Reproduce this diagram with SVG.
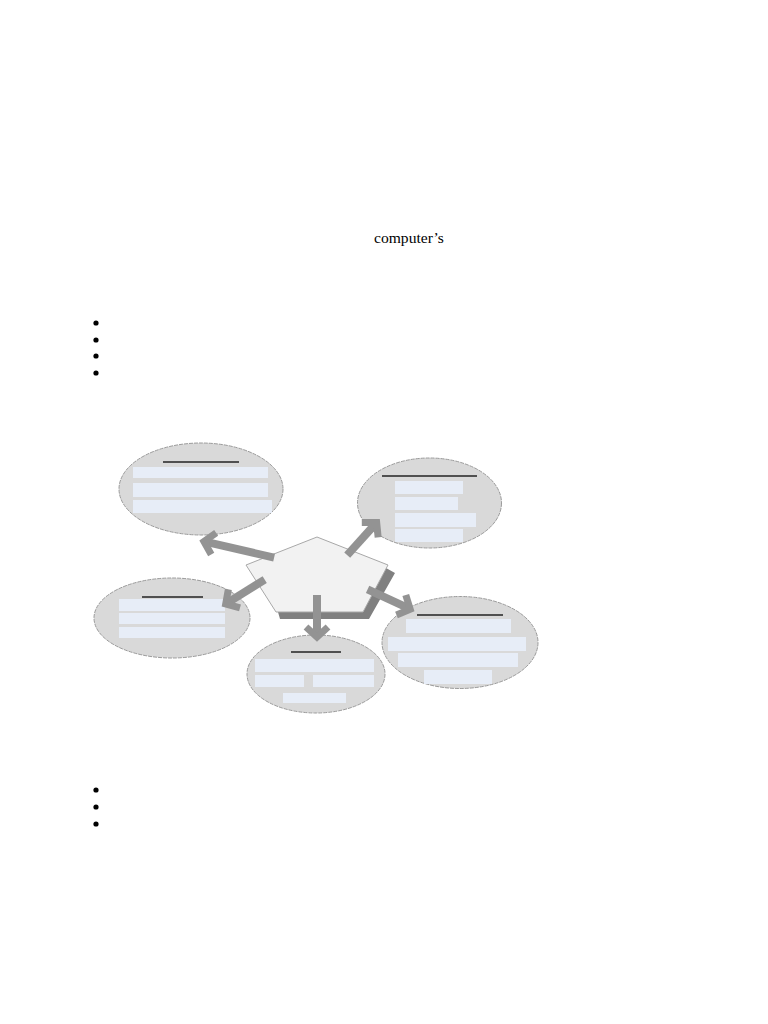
<svg xmlns="http://www.w3.org/2000/svg" width="768" height="1024" viewBox="0 0 768 1024">
<style>
.ell{fill:#d9d9d9;stroke:#9a9a9a;stroke-width:1;stroke-dasharray:4 1}
.bar{fill:#e7edf7}
.ttl{stroke:#222;stroke-width:1.6}
.shaft{stroke:#939393;stroke-width:8;fill:none}
.head{stroke:#939393;stroke-width:7;fill:none;stroke-linejoin:miter;stroke-miterlimit:10}
.bul{fill:#000}
.txt{font-family:"Liberation Serif",serif;font-size:15.6px;fill:#000}
</style>
<rect width="768" height="1024" fill="#fff"/>
<text class="txt" x="374" y="243">computer’s</text>
<g id="bullets1">
<circle class="bul" cx="96" cy="323" r="2.6"/>
<circle class="bul" cx="96" cy="340" r="2.6"/>
<circle class="bul" cx="96" cy="356" r="2.6"/>
<circle class="bul" cx="96" cy="373" r="2.6"/>
</g>
<g id="bullets2">
<circle class="bul" cx="96" cy="790" r="2.6"/>
<circle class="bul" cx="96" cy="807" r="2.6"/>
<circle class="bul" cx="96" cy="824" r="2.6"/>
</g>
<g id="node-center">
<polygon points="278,612 363,612 386,568 395,573 369,619 280,619" fill="#808080"/>
<polygon points="317,537 388,565 363,612 276,612 246,565" fill="#f2f2f2" stroke="#a8a8a8" stroke-width="1"/>
</g>
<g id="node-topleft">
<ellipse class="ell" cx="201" cy="489" rx="82" ry="46"/>
<line class="ttl" x1="163" y1="462" x2="239" y2="462"/>
<rect class="bar" x="133" y="467" width="135" height="11"/>
<rect class="bar" x="133" y="483" width="135" height="14"/>
<rect class="bar" x="133" y="500" width="139" height="13"/>
</g>
<g id="node-topright">
<ellipse class="ell" cx="429.5" cy="503" rx="72" ry="45"/>
<line class="ttl" x1="382" y1="476" x2="477" y2="476"/>
<rect class="bar" x="395" y="481" width="68" height="13"/>
<rect class="bar" x="395" y="497" width="63" height="13"/>
<rect class="bar" x="395" y="513" width="81" height="14"/>
<rect class="bar" x="395" y="529" width="68" height="13"/>
</g>
<g id="node-left">
<ellipse class="ell" cx="172" cy="618" rx="78" ry="40"/>
<line class="ttl" x1="142" y1="597" x2="203" y2="597"/>
<rect class="bar" x="119" y="599" width="106" height="12"/>
<rect class="bar" x="119" y="613" width="106" height="11"/>
<rect class="bar" x="119" y="627" width="106" height="11"/>
</g>
<g id="node-bottom">
<ellipse class="ell" cx="316" cy="674" rx="69" ry="39"/>
<line class="ttl" x1="291" y1="652" x2="341" y2="652"/>
<rect class="bar" x="255" y="659" width="119" height="13"/>
<rect class="bar" x="255" y="675" width="49" height="12"/>
<rect class="bar" x="313" y="675" width="61" height="12"/>
<rect class="bar" x="283" y="693" width="63" height="10"/>
</g>
<g id="node-right">
<ellipse class="ell" cx="460" cy="642.5" rx="78" ry="46"/>
<line class="ttl" x1="417" y1="615" x2="503" y2="615"/>
<rect class="bar" x="406" y="619" width="105" height="14"/>
<rect class="bar" x="388" y="637" width="138" height="14"/>
<rect class="bar" x="398" y="653" width="120" height="14"/>
<rect class="bar" x="424" y="670" width="68" height="14"/>
</g>
<g id="connectors">
<g transform="translate(202,541) rotate(193)">
<line class="shaft" x1="-74" y1="0" x2="-3" y2="0"/>
<polyline class="head" points="-12,-11 -2,0 -12,11"/>
</g>
<g transform="translate(224,605) rotate(148)">
<line class="shaft" x1="-48" y1="0" x2="-3" y2="0"/>
<polyline class="head" points="-12,-11 -2,0 -12,11"/>
</g>
<g transform="translate(317,639) rotate(90)">
<line class="shaft" x1="-44" y1="0" x2="-3" y2="0"/>
<polyline class="head" points="-12,-11 -2,0 -12,11"/>
</g>
<g transform="translate(378,521) rotate(-48)">
<line class="shaft" x1="-46" y1="0" x2="-3" y2="0"/>
<polyline class="head" points="-12,-11 -2,0 -12,11"/>
</g>
<g transform="translate(412,610) rotate(25)">
<line class="shaft" x1="-49" y1="0" x2="-3" y2="0"/>
<polyline class="head" points="-12,-11 -2,0 -12,11"/>
</g>
</g>
</svg>
